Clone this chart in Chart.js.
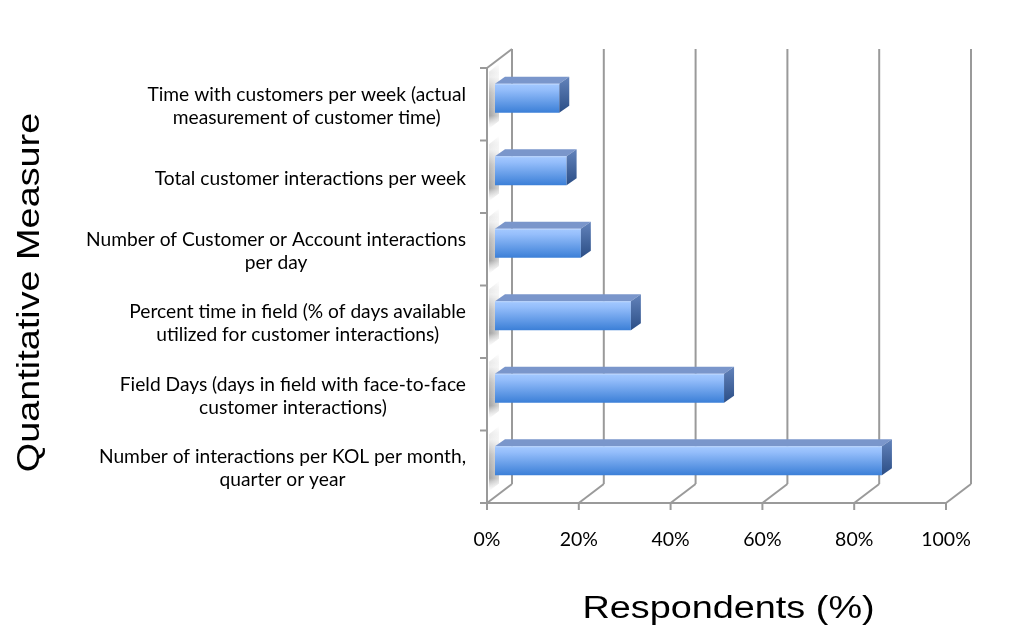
<!DOCTYPE html>
<html><head><meta charset="utf-8">
<script src="https://cdn.jsdelivr.net/npm/chart.js@4.4.1/dist/chart.umd.min.js"></script>
<style>html,body{margin:0;padding:0;background:#fff;}#wrap{width:1021px;height:639px;}</style>
</head><body><div id="wrap"><canvas id="c" width="1021" height="639"></canvas></div>
<script>
// ---- data ----
const categories = [
  ['Time with customers per week (actual', 'measurement of customer time)'],
  ['Total customer interactions per week'],
  ['Number of Customer or Account interactions', 'per day'],
  ['Percent time in field (% of days available', 'utilized for customer interactions)'],
  ['Field Days (days in field with face-to-face', 'customer interactions)'],
  ['Number of interactions per KOL per month,', 'quarter or year']
];
const respondents = [14, 15.6, 18.7, 29.6, 49.9, 84.3];
const xTicks = [0, 20, 40, 60, 80, 100];
const xTitle = 'Respondents (%)';
const yTitle = 'Quantitative Measure';

// ---- 3D styling (pixel offsets of planes relative to the bar plane) ----
const FRONT = {dx: -8, dy: 6};
const BACK = {dx: 17, dy: -13};
const BAR_DEPTH = {dx: 10, dy: -7};
const GRID_COLOR = '#9a9a9a';
const LABEL_FONT = '19.2px Lato';

function line(ctx, x1, y1, x2, y2) {
  ctx.beginPath(); ctx.moveTo(x1, y1); ctx.lineTo(x2, y2); ctx.stroke();
}
function poly(ctx, pts, fill) {
  ctx.beginPath(); ctx.moveTo(pts[0][0], pts[0][1]);
  for (let i = 1; i < pts.length; i++) ctx.lineTo(pts[i][0], pts[i][1]);
  ctx.closePath(); ctx.fillStyle = fill; ctx.fill();
}

const box3d = {
  id: 'box3d',
  beforeDatasetsDraw(chart) {
    const {ctx, chartArea: a, scales: {x, y}} = chart;
    const meta = chart.getDatasetMeta(0);
    const x0 = x.getPixelForValue(0), x100 = x.getPixelForValue(100);
    ctx.save();
    // soft bar shadows on the left wall
    meta.data.forEach(el => {
      const t = el.y - el.height / 2, b = el.y + el.height / 2;
      const g = ctx.createLinearGradient(0, t - 20, 0, b + 16);
      g.addColorStop(0, 'rgba(190,190,190,0)');
      g.addColorStop(0.2, 'rgba(235,235,235,0.9)');
      g.addColorStop(0.45, 'rgba(175,175,175,0.85)');
      g.addColorStop(0.8, 'rgba(130,130,130,0.75)');
      g.addColorStop(1, 'rgba(200,200,200,0)');
      poly(ctx, [[x0 - 6, t - 12], [x0 + 4, t - 20], [x0 + 4, b + 8], [x0 - 6, b + 16]], g);
      const h = ctx.createLinearGradient(x0 - 6, 0, x0 + 5, 0);
      h.addColorStop(0, 'rgba(255,255,255,0)');
      h.addColorStop(1, 'rgba(255,255,255,0.6)');
      poly(ctx, [[x0 - 6, t - 12], [x0 + 4, t - 20], [x0 + 4, b + 8], [x0 - 6, b + 16]], h);
    });
    ctx.strokeStyle = GRID_COLOR;
    ctx.lineWidth = 2;
    xTicks.forEach(v => {
      const px = x.getPixelForValue(v);
      line(ctx, px + BACK.dx, a.top + BACK.dy, px + BACK.dx, a.bottom + BACK.dy);
      line(ctx, px + FRONT.dx, a.bottom + FRONT.dy, px + BACK.dx, a.bottom + BACK.dy);
      line(ctx, px + FRONT.dx, a.bottom + FRONT.dy, px + FRONT.dx, a.bottom + FRONT.dy + 7);
    });
    line(ctx, x0 + FRONT.dx, a.bottom + FRONT.dy, x100 + FRONT.dx, a.bottom + FRONT.dy);
    line(ctx, x0 + FRONT.dx, a.top + FRONT.dy, x0 + FRONT.dx, a.bottom + FRONT.dy);
    line(ctx, x0 + FRONT.dx, a.top + FRONT.dy, x0 + BACK.dx, a.top + BACK.dy);
    const band = y.getPixelForValue(1) - y.getPixelForValue(0);
    for (let i = 0; i <= categories.length; i++) {
      const yb = y.getPixelForValue(0) - band / 2 + i * band + FRONT.dy;
      line(ctx, x0 + FRONT.dx - 7, yb, x0 + FRONT.dx, yb);
    }
    ctx.restore();
  },
  afterDatasetsDraw(chart) {
    const {ctx} = chart;
    const meta = chart.getDatasetMeta(0);
    ctx.save();
    meta.data.forEach(el => {
      const t = el.y - el.height / 2, b = el.y + el.height / 2, xa = el.base, xb = el.x;
      const d = BAR_DEPTH;
      poly(ctx, [[xa, t], [xb, t], [xb + d.dx, t + d.dy], [xa + d.dx, t + d.dy]], '#7a96cb');
      const g = ctx.createLinearGradient(0, t + d.dy, 0, b);
      g.addColorStop(0, '#6383bb');
      g.addColorStop(1, '#2b4e86');
      poly(ctx, [[xb, t], [xb + d.dx, t + d.dy], [xb + d.dx, b + d.dy], [xb, b]], g);
      ctx.fillStyle = 'rgba(190,215,255,0.9)';
      ctx.fillRect(xa, t, xb - xa, 1);
    });
    ctx.restore();
  },
  afterDraw(chart) {
    const {ctx, chartArea: a, scales: {x, y}} = chart;
    const x0 = x.getPixelForValue(0);
    ctx.save();
    ctx.fillStyle = '#000';
    ctx.font = LABEL_FONT;
    ctx.textAlign = 'center';
    ctx.textBaseline = 'middle';
    const right = x0 + FRONT.dx - 21;
    const lh = 23;
    categories.forEach((lines, i) => {
      const yc = y.getPixelForValue(i) + FRONT.dy + 2;
      const w = Math.max(...lines.map(l => ctx.measureText(l).width));
      const cx = right - w / 2;
      lines.forEach((l, j) => ctx.fillText(l, cx, yc + (j - (lines.length - 1) / 2) * lh));
    });
    // axis titles
    ctx.font = '31px "Liberation Sans"';
    ctx.save();
    ctx.translate((a.left + a.right) / 2 + 4, 609);
    ctx.scale(1.22, 1);
    ctx.fillText(xTitle, 0, 0);
    ctx.restore();
    ctx.save();
    ctx.translate(30, (a.top + a.bottom) / 2 + 13);
    ctx.rotate(-Math.PI / 2);
    ctx.scale(1.22, 1);
    ctx.fillText(yTitle, 0, 0);
    ctx.restore();
    ctx.restore();
  }
};

function frontGradient(c) {
  const chart = c.chart;
  const ys = chart.scales && chart.scales.y;
  if (!ys || c.dataIndex === undefined || !chart.chartArea) return '#7aa8ee';
  const yc = ys.getPixelForValue(c.dataIndex);
  const band = ys.getPixelForValue(1) - ys.getPixelForValue(0);
  const h = band * 0.4;
  const g = chart.ctx.createLinearGradient(0, yc - h / 2, 0, yc + h / 2);
  g.addColorStop(0, '#a4c9ff');
  g.addColorStop(0.2, '#95befb');
  g.addColorStop(1, '#3b7fd7');
  return g;
}

new Chart(document.getElementById('c'), {
  type: 'bar',
  data: {
    labels: categories,
    datasets: [{
      data: respondents,
      backgroundColor: frontGradient,
      borderWidth: 0,
      barPercentage: 0.4,
      categoryPercentage: 1
    }]
  },
  options: {
    indexAxis: 'y',
    responsive: false,
    animation: false,
    layout: {padding: {left: 495, right: 67, top: 62, bottom: 0}},
    plugins: {legend: {display: false}, tooltip: {enabled: false}},
    scales: {
      x: {
        type: 'linear', min: 0, max: 100,
        afterBuildTicks: s => { s.ticks = xTicks.map(v => ({value: v})); },
        ticks: {
          callback: v => v + '%',
          font: {family: 'Lato', size: 19.5},
          color: '#000',
          labelOffset: FRONT.dx,
          padding: 31,
          maxRotation: 0,
          autoSkip: false
        },
        grid: {display: false, drawTicks: false},
        border: {display: false},
        afterFit: s => { s.height = 142; }
      },
      y: {display: false}
    }
  },
  plugins: [box3d]
});
</script>
</body></html>
